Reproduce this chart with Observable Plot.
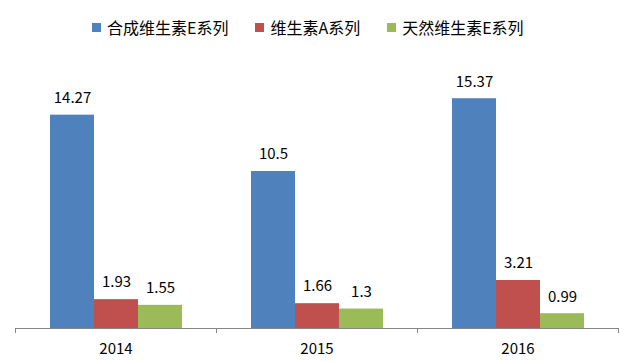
<!DOCTYPE html>
<html><head><meta charset="utf-8">
<script src="https://cdn.jsdelivr.net/npm/d3@7"></script>
<script src="https://cdn.jsdelivr.net/npm/@observablehq/plot@0.6"></script>
<style>
body{margin:0;background:#fff;}
#wrap{position:relative;width:633px;height:362px;}
#legend{position:absolute;left:92px;top:17px;display:flex;align-items:center;font-family:"Noto Sans CJK SC",sans-serif;font-size:16px;color:#000;line-height:20px;}
#legend .item{display:flex;align-items:center;margin-right:27px;}
#legend .sw{width:9px;height:9px;margin-right:6px;}
#wrap svg{position:absolute;left:0;top:0;}
</style></head><body><div id="wrap"><div id="legend"></div></div>
<script>
const years = ["2014","2015","2016"];
const series = ["合成维生素E系列","维生素A系列","天然维生素E系列"];
const colors = ["#4F81BD","#C0504D","#9BBB59"];
const synE = [14.27, 10.5, 15.37];
const vitA = [1.93, 1.66, 3.21];
const natE = [1.55, 1.3, 0.99];

const data = years.flatMap((y, i) => [
  {year: y, series: series[0], value: synE[i]},
  {year: y, series: series[1], value: vitA[i]},
  {year: y, series: series[2], value: natE[i]}
]);

const W = 633, ML = 15, MR = 15;
const bw = (W - ML - MR) / years.length;
const font = '"Noto Sans CJK SC", sans-serif';

const chart = Plot.plot({
  width: W, height: 362,
  marginLeft: ML, marginRight: MR, marginTop: 29, marginBottom: 34,
  style: {fontFamily: font, background: "transparent"},
  fx: {domain: years, padding: 0, label: null},
  x: {domain: series, paddingInner: 0, paddingOuter: 0.74, axis: null},
  y: {domain: [0, 20], axis: null},
  color: {domain: series, range: colors},
  marks: [
    Plot.barY(data, {fx: "year", x: "series", y: "value", fill: "series"}),
    Plot.text(data, {fx: "year", x: "series", y: "value", text: d => String(d.value), dy: -17, fontSize: 15, fill: "#000"}),
    Plot.ruleY([0], {stroke: "#868686"}),
    Plot.axisFx({anchor: "bottom", tickSize: 5, dx: -bw / 2, text: null, label: null, stroke: "#868686"}),
    Plot.axisFx({anchor: "bottom", tickSize: 5, dx: bw / 2, text: null, label: null, stroke: "#868686"}),
    Plot.axisFx({anchor: "bottom", tickSize: 0, tickPadding: 15, fontSize: 15, label: null, fill: "#000"})
  ]
});
document.getElementById("wrap").appendChild(chart);

const legend = document.getElementById("legend");
series.forEach((s, i) => {
  const it = document.createElement("div");
  it.className = "item";
  const sw = document.createElement("span");
  sw.className = "sw";
  sw.style.background = colors[i];
  const t = document.createElement("span");
  t.textContent = s;
  it.appendChild(sw); it.appendChild(t);
  legend.appendChild(it);
});
</script></body></html>
